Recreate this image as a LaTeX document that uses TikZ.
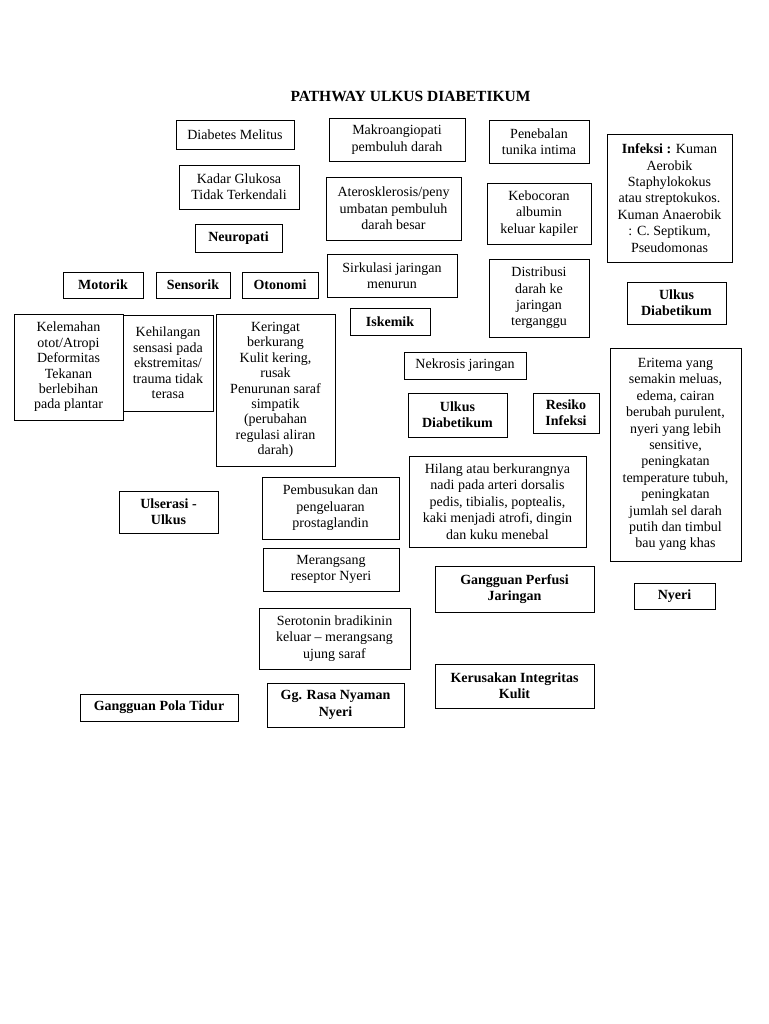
\documentclass[tikz,border=0pt]{standalone}
\usepackage{fontspec}
\setmainfont{Liberation Serif}
\begin{document}
\begin{tikzpicture}[x=1pt,y=-1pt,
  bx/.style={draw=black,line width=0.9pt,inner sep=0pt,align=center,
    font=\fontsize{14}{16.4}\selectfont},
  tight/.style={font=\fontsize{14}{15.4}\selectfont},
  bb/.style={bx,font=\fontsize{14}{16.4}\selectfont\bfseries}]
\useasboundingbox (0,0) rectangle (768,1024);
\node[font=\fontsize{15.5}{18}\selectfont\bfseries] (title) at (410.5,96) {PATHWAY ULKUS DIABETIKUM};
\node[bx,minimum width=118pt,minimum height=29pt] (dm) at (235,134.5) {Diabetes Melitus};
\node[bx,minimum width=120pt,minimum height=44pt] (kadar) at (239,187) {Kadar Glukosa\\Tidak Terkendali};
\node[bb,minimum width=87pt,minimum height=28pt] (neuro) at (238.5,238) {Neuropati};
\node[bb,minimum width=80pt,minimum height=26pt] (motorik) at (103,285) {Motorik};
\node[bb,minimum width=74pt,minimum height=26pt] (sensorik) at (193,285) {Sensorik};
\node[bb,minimum width=76pt,minimum height=26pt] (otonomi) at (280,285) {Otonomi};
\node[bx,minimum width=136pt,minimum height=43pt] (makro) at (397,139.5) {Makroangiopati\\pembuluh darah};
\node[bx,minimum width=135pt,minimum height=63pt] (atero) at (393.5,208.5) {Aterosklerosis/peny\\umbatan pembuluh\\darah besar};
\node[bx,minimum width=130pt,minimum height=43pt] (sirk) at (392,275.5) {Sirkulasi jaringan\\menurun};
\node[bb,minimum width=80pt,minimum height=27pt] (iskemik) at (390,321.5) {Iskemik};
\node[bx,minimum width=100pt,minimum height=43pt] (tebal) at (539,141.5) {Penebalan\\tunika intima};
\node[bx,minimum width=104pt,minimum height=61pt] (bocor) at (539,213.5) {Kebocoran\\albumin\\keluar kapiler};
\node[bx,minimum width=100pt,minimum height=78pt] (distr) at (539,298) {Distribusi\\darah ke\\jaringan\\terganggu};
\node[bx,minimum width=125pt,minimum height=128pt] (infeksi) at (669.5,198) {\textbf{Infeksi :} Kuman\\Aerobik\\Staphylokokus\\atau streptokukos.\\Kuman Anaerobik\\: C. Septikum,\\Pseudomonas};
\node[bb,minimum width=99pt,minimum height=42pt] (ulkusR) at (676.5,303) {Ulkus\\Diabetikum};
\node[bx,tight,minimum width=109pt,minimum height=106pt] (lemah) at (68.5,367) {Kelemahan\\otot/Atropi\\Deformitas\\Tekanan\\berlebihan\\pada plantar};
\node[bx,tight,minimum width=90pt,minimum height=96pt] (hilangS) at (168,363) {Kehilangan\\sensasi pada\\ekstremitas/\\trauma tidak\\terasa};
\node[bx,tight,minimum width=119pt,minimum height=152pt] (keringat) at (275.5,390) {Keringat\\berkurang\\Kulit kering,\\rusak\\Penurunan saraf\\simpatik\\(perubahan\\regulasi aliran\\darah)};
\node[bx,minimum width=122pt,minimum height=27pt] (nekrosis) at (465,365.5) {Nekrosis jaringan};
\node[bb,minimum width=99pt,minimum height=44pt] (ulkusM) at (457.5,415) {Ulkus\\Diabetikum};
\node[bb,minimum width=66pt,minimum height=40pt] (resiko) at (566,413) {Resiko\\Infeksi};
\node[bx,minimum width=177pt,minimum height=91pt] (nadi) at (497.5,501.5) {Hilang atau berkurangnya\\nadi pada arteri dorsalis\\pedis, tibialis, poptealis,\\kaki menjadi atrofi, dingin\\dan kuku menebal};
\node[bx,minimum width=131pt,minimum height=213pt] (eritema) at (675.5,454.5) {Eritema yang\\semakin meluas,\\edema, cairan\\berubah purulent,\\nyeri yang lebih\\sensitive,\\peningkatan\\temperature tubuh,\\peningkatan\\jumlah sel darah\\putih dan timbul\\bau yang khas};
\node[bb,minimum width=99pt,minimum height=42pt] (ulserasi) at (168.5,512) {Ulserasi -\\Ulkus};
\node[bx,minimum width=137pt,minimum height=62pt] (busuk) at (330.5,508) {Pembusukan dan\\pengeluaran\\prostaglandin};
\node[bx,minimum width=136pt,minimum height=43pt] (rangsang) at (331,569.5) {Merangsang\\reseptor Nyeri};
\node[bx,minimum width=151pt,minimum height=61pt] (sero) at (334.5,638.5) {Serotonin bradikinin\\keluar -- merangsang\\ujung saraf};
\node[bb,minimum width=158pt,minimum height=27pt] (gpt) at (159,707.5) {Gangguan Pola Tidur};
\node[bb,minimum width=137pt,minimum height=44pt] (grn) at (335.5,705) {Gg. Rasa Nyaman\\Nyeri};
\node[bb,minimum width=159pt,minimum height=46pt] (perfusi) at (514.5,589) {Gangguan Perfusi\\Jaringan};
\node[bb,minimum width=81pt,minimum height=26pt] (nyeri) at (674.5,596) {Nyeri};
\node[bb,minimum width=159pt,minimum height=44pt] (rusak) at (514.5,686) {Kerusakan Integritas\\Kulit};
\end{tikzpicture}
\end{document}
